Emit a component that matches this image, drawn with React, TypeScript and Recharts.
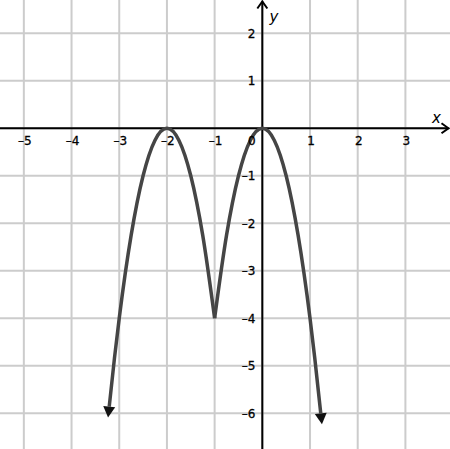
import React from 'react';
import { LineChart, Line, XAxis, YAxis, ReferenceLine, ReferenceDot } from 'recharts';

// Grid / tick values
const xTicks = [-5, -4, -3, -2, -1, 0, 1, 2, 3];
const yTicks = [-6, -5, -4, -3, -2, -1, 0, 1, 2];
const xTickLabels = ['–5', '–4', '–3', '–2', '–1', '0', '1', '2', '3'];
const yTickLabels = ['–6', '–5', '–4', '–3', '–2', '–1', '', '1', '2'];

// Curve, left piece
const leftX = [-3.21, -3.1, -3, -2.75, -2.5, -2.25, -2, -1.75, -1.5, -1.25, -1];
const leftY = [-5.86, -4.84, -4, -2.25, -1, -0.25, 0, -0.25, -1, -2.25, -4];
// Curve, right piece
const rightX = [-1, -0.75, -0.5, -0.25, 0, 0.25, 0.5, 0.75, 1, 1.1, 1.225];
const rightY = [-4, -2.25, -1, -0.25, 0, -0.25, -1, -2.25, -4, -4.84, -6];

const xDomain: [number, number] = [-5.5, 3.935];
const yDomain: [number, number] = [-6.752, 2.701];

const leftData = leftX.map((x, i) => ({ x, y: leftY[i] }));
const rightData = rightX.map((x, i) => ({ x, y: rightY[i] }));

const FONT = '"DejaVu Sans", Verdana, sans-serif';
const CURVE = '#454545';
const GRID = '#cccccc';

const makeArrowDot = (which: 'first' | 'last', data: { x: number; y: number }[]) => (props: any) => {
  const { cx, cy, index, points } = props;
  const n = data.length;
  const target = which === 'first' ? 0 : n - 1;
  if (index !== target || cx == null || cy == null) return <g key={`d-${index}`} />;
  let dx: number;
  let dy: number;
  if (points && points.length > 1) {
    const nb = which === 'first' ? points[1] : points[points.length - 2];
    dx = cx - nb.x;
    dy = cy - nb.y;
  } else {
    const nb = which === 'first' ? data[1] : data[n - 2];
    const me = data[target];
    dx = me.x - nb.x;
    dy = -(me.y - nb.y);
  }
  const len = Math.hypot(dx, dy) || 1;
  dx /= len;
  dy /= len;
  const L = 11;
  const W = 6;
  const tipX = cx + dx * L;
  const tipY = cy + dy * L;
  const px = -dy;
  const py = dx;
  const pts = `${tipX},${tipY} ${cx + px * W},${cy + py * W} ${cx - px * W},${cy - py * W}`;
  return <polygon key={`d-${index}`} points={pts} fill="#111" />;
};

const XAxisShape = (p: any) => {
  const { x1, y1, x2 } = p;
  const left = Math.min(x1, x2);
  const right = Math.max(x1, x2) - 1.5;
  return (
    <g>
      <line x1={left} y1={y1} x2={right} y2={y1} stroke="#000" strokeWidth={2} />
      <polyline
        points={`${right - 7},${y1 - 5} ${right},${y1} ${right - 7},${y1 + 5}`}
        fill="none"
        stroke="#000"
        strokeWidth={2}
      />
    </g>
  );
};

const YAxisShape = (p: any) => {
  const { x1, y1, y2 } = p;
  const top = Math.min(y1, y2) + 1.5;
  const bottom = Math.max(y1, y2);
  return (
    <g>
      <line x1={x1} y1={bottom} x2={x1} y2={top} stroke="#000" strokeWidth={2} />
      <polyline
        points={`${x1 - 5},${top + 7} ${x1},${top} ${x1 + 5},${top + 7}`}
        fill="none"
        stroke="#000"
        strokeWidth={2}
      />
    </g>
  );
};

const labelStyle = {
  fontSize: 12,
  fontFamily: FONT,
  fill: '#000',
  stroke: '#000',
  strokeWidth: 0.3,
};

export default function App() {
  return (
    <div style={{ position: 'fixed', left: 0, top: 0, width: 450, height: 449, background: '#fff' }}>
      <LineChart width={450} height={449} margin={{ top: 0, right: 0, bottom: 0, left: 0 }}>
        <XAxis
          type="number"
          dataKey="x"
          domain={xDomain}
          ticks={xTicks}
          allowDataOverflow
          hide
        />
        <YAxis type="number" domain={yDomain} ticks={yTicks} allowDataOverflow hide />
        {xTicks.map((v) => (
          <ReferenceLine key={`gx-${v}`} x={v} stroke={GRID} strokeWidth={2} />
        ))}
        {yTicks.map((v) => (
          <ReferenceLine key={`gy-${v}`} y={v} stroke={GRID} strokeWidth={2} />
        ))}
        <ReferenceLine y={0} shape={XAxisShape} />
        <ReferenceLine x={0} shape={YAxisShape} />
        <Line
          data={leftData}
          dataKey="y"
          type="monotone"
          stroke={CURVE}
          strokeWidth={3.5}
          dot={makeArrowDot('first', leftData)}
          activeDot={false}
          isAnimationActive={false}
        />
        <Line
          data={rightData}
          dataKey="y"
          type="monotone"
          stroke={CURVE}
          strokeWidth={3.5}
          dot={makeArrowDot('last', rightData)}
          activeDot={false}
          isAnimationActive={false}
        />
        {xTicks.map((v, i) =>
          xTickLabels[i] ? (
            <ReferenceDot
              key={`xl-${i}`}
              x={v}
              y={0}
              shape={(p: any) => (
                <text
                  x={p.cx + (v === 0 ? -10.5 : 1)}
                  y={p.cy + 16.7}
                  textAnchor="middle"
                  style={labelStyle}
                >
                  {xTickLabels[i]}
                </text>
              )}
            />
          ) : null
        )}
        {yTicks.map((v, i) =>
          yTickLabels[i] ? (
            <ReferenceDot
              key={`yl-${i}`}
              x={0}
              y={v}
              shape={(p: any) => (
                <text x={p.cx - 7} y={p.cy + 4.4} textAnchor="end" style={labelStyle}>
                  {yTickLabels[i]}
                </text>
              )}
            />
          ) : null
        )}
        <ReferenceDot
          x={3.65}
          y={0}
          shape={(p: any) => (
            <text x={p.cx} y={p.cy - 5.5} textAnchor="middle" fontSize={15} fontStyle="italic" fontFamily={FONT} fill="#000">
              x
            </text>
          )}
        />
        <ReferenceDot
          x={0}
          y={2}
          shape={(p: any) => (
            <text x={p.cx + 11.5} y={p.cy - 11.5} textAnchor="middle" fontSize={15} fontStyle="italic" fontFamily={FONT} fill="#000">
              y
            </text>
          )}
        />
      </LineChart>
    </div>
  );
}
